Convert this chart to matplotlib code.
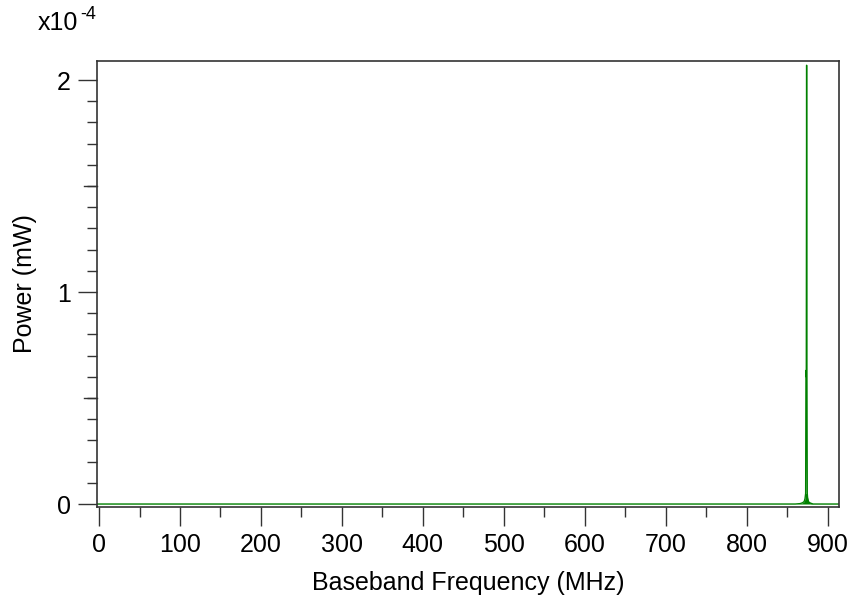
import numpy as np
import matplotlib
matplotlib.use("Agg")
import matplotlib.pyplot as plt
from matplotlib.ticker import MultipleLocator, FixedLocator

plt.rcParams['font.family'] = ['Liberation Sans', 'DejaVu Sans']

# spectrum (MHz, power in units of 1e-4 mW)
freq_mhz = [-2.5, 860, 866, 869, 871, 872, 872.8, 873.2, 873.6, 874.0, 874.4, 874.8, 875.2, 876, 877, 879, 882, 914]
power_e4 = [0.0, 0.0, 0.002, 0.006, 0.012, 0.025, 0.05, 0.63, 0.60, 2.07, 0.62, 0.05, 0.03, 0.015, 0.008, 0.004, 0.0, 0.0]

x_ticks = [0, 100, 200, 300, 400, 500, 600, 700, 800, 900]
y_ticks = [0, 1, 2]

fig = plt.figure(figsize=(8.5, 5.98), dpi=100)
ax = fig.add_axes([97 / 850, 1 - 507 / 598, (839 - 97) / 850, (507 - 61) / 598])

ax.plot(freq_mhz, power_e4, color='#008000', lw=1.0)
ax.fill_between(freq_mhz, 0, [min(p, 0.05) for p in power_e4], color='#008000', lw=0)

ax.set_xlim(-2.5, 914)
ax.set_ylim(-0.014, 2.09)

ax.xaxis.set_major_locator(FixedLocator(x_ticks))
ax.xaxis.set_minor_locator(MultipleLocator(50))
ax.yaxis.set_major_locator(FixedLocator(y_ticks))
ax.yaxis.set_minor_locator(MultipleLocator(0.1))
ax.tick_params(axis='both', which='major', length=14, width=1, direction='out',
               labelsize=18, pad=5, color='#333333')
ax.tick_params(axis='both', which='minor', length=7, width=1, direction='out',
               color='#333333')
ax.set_yticklabels([str(v) for v in y_ticks])
# medium ticks at the half values
for v in [0.5, 1.5]:
    ax.plot([-0.018, 0], [v, v], transform=ax.get_yaxis_transform(), color='#333333',
            lw=1, clip_on=False)

for s in ax.spines.values():
    s.set_color('#333333')
    s.set_linewidth(1.2)

ax.set_xlabel('Baseband Frequency (MHz)', fontsize=18, labelpad=10)
ax.set_ylabel('Power (mW)', fontsize=18, labelpad=14)

# scale factor label, "x10" with a raised "-4"
fig.text(38 / 850, 1 - 30 / 598, 'x10', fontsize=18, ha='left', va='baseline')
fig.text(80 / 850, 1 - 19 / 598, '-4', fontsize=13, ha='left', va='baseline')

fig.savefig('out.png', dpi=100)
